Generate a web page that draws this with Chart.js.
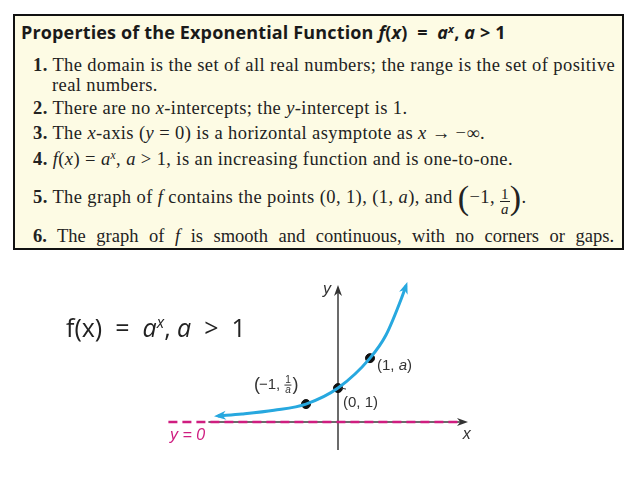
<!DOCTYPE html>
<html>
<head>
<meta charset="utf-8">
<script src="https://cdn.jsdelivr.net/npm/chart.js@4.4.1/dist/chart.umd.min.js"></script>
<style>
  html, body { margin: 0; padding: 0; background: #fff; }
  body { width: 638px; height: 479px; position: relative; overflow: hidden; }
  #graph { position: absolute; left: 0; top: 0; }
  #box {
    position: absolute; left: 13px; top: 14px; width: 611px; height: 236px;
    box-sizing: border-box; border: 2px solid #111; background: #fdfbe4;
  }
  .ln {
    position: absolute; white-space: nowrap; color: #222;
    font-family: "Liberation Serif", "DejaVu Serif", serif; font-size: 18.5px; line-height: 20px;
    letter-spacing: 0.4px;
  }
  .ln b { font-weight: bold; }
  .ttl { font-family: "Open Sans", "Lato", sans-serif; font-weight: bold; font-size: 18px; color: #1a1a1a; letter-spacing: 0.15px; }
  .big {
    position: absolute; left: 66px; top: 313px; white-space: nowrap; color: #222;
    font-family: "Open Sans", "Noto Sans", sans-serif; font-size: 25px; line-height: 28px;
  }
  sup { font-size: 0.62em; vertical-align: 0; position: relative; top: -0.55em; }
  .par { font-size: 34px; font-weight: 300; vertical-align: -6px; }
  .frac { display: inline-block; vertical-align: -11px; text-align: center; font-size: 15px; line-height: 14px; }
  .frac span { display: block; padding: 0 1px; }
  .frac .num { border-bottom: 1px solid #222; }
</style>
</head>
<body>
<canvas id="graph" width="638" height="479"></canvas>
<div id="box"></div>
<div class="ln ttl" style="left:21px; top:22px;">Properties of the Exponential Function <i>f</i>(<i>x</i>) &nbsp;= &nbsp;<i>a</i><sup><i>x</i></sup>, <i>a</i> &gt; 1</div>
<div class="ln" style="left:33px; top:55px;"><b>1.</b> The domain is the set of all real numbers; the range is the set of positive</div>
<div class="ln" style="left:52px; top:75px;">real numbers.</div>
<div class="ln" style="left:33px; top:98px;"><b>2.</b> There are no <i>x</i>-intercepts; the <i>y</i>-intercept is 1.</div>
<div class="ln" style="left:33px; top:123px;"><b>3.</b> The <i>x</i>-axis (<i>y</i> = 0) is a horizontal asymptote as <i>x</i> → −∞.</div>
<div class="ln" style="left:33px; top:149px;"><b>4.</b> <i>f</i>(<i>x</i>) = <i>a</i><sup><i>x</i></sup>, <i>a</i> &gt; 1, is an increasing function and is one-to-one.</div>
<div class="ln" style="left:33px; top:187px;"><b>5.</b> The graph of <i>f</i> contains the points (0, 1), (1, <i>a</i>), and <span class="par">(</span>−1, <span class="frac"><span class="num">1</span><span><i>a</i></span></span><span class="par">)</span>.</div>
<div class="ln" style="left:33px; top:226px; width:581px; white-space:normal; text-align:justify; text-align-last:justify; letter-spacing:0;"><b>6.</b> The graph of <i>f</i> is smooth and continuous, with no corners or gaps.</div>
<div class="big"><span>f(x)</span> &nbsp;= &nbsp;<i>a</i><sup><i>x</i></sup>, <i>a</i> &nbsp;&gt; &nbsp;1</div>
<script>
// values (data units, a ≈ 1.88)
const curveX = [-3.75, -3, -2, -1, 0, 1, 1.5, 2, 2.12];
const curveY = [0.18, 0.24, 0.35, 0.53, 1, 1.88, 2.56, 3.68, 4.0];

const markX = [-1, 0, 1];
const markY = [0.53, 1, 1.88];
const markLabels = ['(−1, 1/a)', '(0, 1)', '(1, a)'];

const asymX = [-5.3, 3.8];
const asymY = [0, 0];

const BLUE = '#27a8df';
const PINK = '#cf1d80';
const AXIS = '#6b6b6b';

function arrowHead(ctx, x, y, ang, len, wid, color) {
  ctx.save();
  ctx.translate(x, y);
  ctx.rotate(ang);
  ctx.fillStyle = color;
  ctx.beginPath();
  ctx.moveTo(0, 0);
  ctx.lineTo(-len, -wid / 2);
  ctx.lineTo(-len * 0.7, 0);
  ctx.lineTo(-len, wid / 2);
  ctx.closePath();
  ctx.fill();
  ctx.restore();
}

const axesPlugin = {
  id: 'axes',
  beforeDatasetsDraw(chart) {
    const { ctx, chartArea, scales: { x, y } } = chart;
    const x0 = x.getPixelForValue(0);
    const y0 = y.getPixelForValue(0);
    ctx.save();
    ctx.strokeStyle = AXIS;
    ctx.lineWidth = 2;
    ctx.beginPath();
    ctx.moveTo(x0, chartArea.bottom);
    ctx.lineTo(x0, chartArea.top + 6);
    ctx.moveTo(x.getPixelForValue(-4.05), y0);
    ctx.lineTo(chartArea.right - 6, y0);
    ctx.stroke();
    ctx.restore();
    arrowHead(ctx, x0, chartArea.top, -Math.PI / 2, 11, 8, '#333');
    arrowHead(ctx, chartArea.right, y0, 0, 11, 8, '#333');
  },
  afterDatasetsDraw(chart) {
    const { ctx, scales: { x, y } } = chart;
    // arrow heads at both curve ends
    const meta = chart.getDatasetMeta(1).data;
    const a = meta[0], b = meta[1];
    arrowHead(ctx, a.x - 4, a.y + 0.3, Math.atan2(a.y - b.y, a.x - b.x), 12, 9, BLUE);
    const c = meta[meta.length - 1], d = meta[meta.length - 2];
    arrowHead(ctx, c.x + 1.5, c.y - 4, Math.atan2(c.y - d.y, c.x - d.x), 12, 9, BLUE);

    const F = '"Liberation Sans", Arial, sans-serif';
    ctx.save();
    ctx.textBaseline = 'middle';
    ctx.fillStyle = '#333';
    ctx.font = 'italic 16px ' + F;
    ctx.fillText('y', x.getPixelForValue(0) - 15, y.getPixelForValue(4.0) + 4);
    ctx.fillText('x', x.getPixelForValue(3.9), y.getPixelForValue(0) + 12);
    ctx.fillStyle = PINK;
    ctx.font = 'italic 16px ' + F;
    ctx.fillText('y = 0', x.getPixelForValue(-5.25), y.getPixelForValue(0) + 13);

    ctx.fillStyle = '#333';
    ctx.font = '15px ' + F;
    // (1, a)
    let px = x.getPixelForValue(markX[2]) + 7, py = y.getPixelForValue(markY[2]) + 8;
    ctx.fillText('(1, ', px, py);
    let w = ctx.measureText('(1, ').width;
    ctx.font = 'italic 15px ' + F;
    ctx.fillText('a', px + w, py);
    w += ctx.measureText('a').width;
    ctx.font = '15px ' + F;
    ctx.fillText(')', px + w, py);
    // (0, 1)
    px = x.getPixelForValue(markX[1]);
    py = y.getPixelForValue(markY[1]);
    ctx.strokeStyle = '#333';
    ctx.lineWidth = 1;
    ctx.beginPath();
    ctx.moveTo(px + 3, py);
    ctx.lineTo(px + 8, py + 1);
    ctx.stroke();
    ctx.fillText(markLabels[1], px + 5, py + 15);
    // (−1, 1/a)
    px = x.getPixelForValue(markX[0]) - 52;
    py = y.getPixelForValue(markY[0]) - 19;
    ctx.font = '300 18px ' + F;
    ctx.fillText('(', px, py);
    ctx.font = '15px ' + F;
    ctx.fillText('−1, ', px + 5, py);
    w = 5 + ctx.measureText('−1, ').width;
    ctx.font = '10px ' + F;
    ctx.textAlign = 'center';
    ctx.fillText('1', px + w + 3.5, py - 5);
    ctx.font = 'italic 10px ' + F;
    ctx.fillText('a', px + w + 3.5, py + 5.5);
    ctx.fillRect(px + w, py - 0.5, 7, 1);
    ctx.textAlign = 'left';
    ctx.font = '300 18px ' + F;
    ctx.fillText(')', px + w + 8, py);
    ctx.restore();
  }
};

new Chart(document.getElementById('graph'), {
  type: 'scatter',
  data: {
    datasets: [{
      label: 'y = 0',
      data: asymX.map((v, i) => ({ x: v, y: asymY[i] })),
      showLine: true,
      borderColor: PINK,
      borderWidth: 2.5,
      borderDash: [9, 5],
      pointRadius: 0
    }, {
      label: 'f(x) = a^x',
      data: curveX.map((v, i) => ({ x: v, y: curveY[i] })),
      showLine: true,
      borderColor: BLUE,
      borderWidth: 3,
      cubicInterpolationMode: 'monotone',
      pointRadius: 0
    }, {
      label: 'points',
      data: markX.map((v, i) => ({ x: v, y: markY[i] })),
      pointRadius: 4.5,
      pointBackgroundColor: '#111',
      pointBorderColor: '#111',
      showLine: false
    }]
  },
  options: {
    responsive: false,
    animation: false,
    layout: { padding: { left: 168, right: 170, top: 285, bottom: 29 } },
    plugins: { legend: { display: false }, tooltip: { enabled: false } },
    scales: {
      x: { type: 'linear', min: -5.3125, max: 4.0625, display: false },
      y: { type: 'linear', min: -0.82, max: 4.03, display: false }
    }
  },
  plugins: [axesPlugin]
});
</script>
</body>
</html>
